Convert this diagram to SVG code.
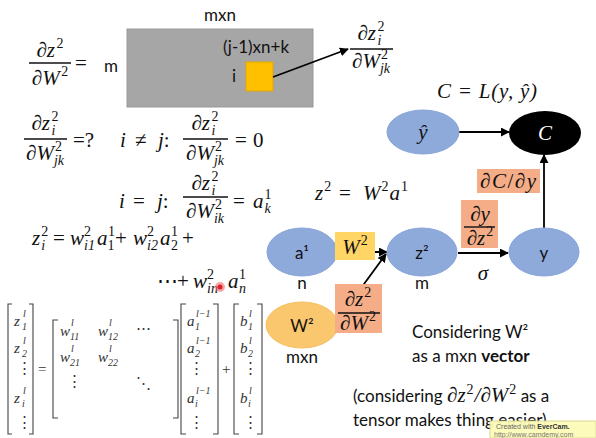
<svg xmlns="http://www.w3.org/2000/svg" width="596" height="438" viewBox="0 0 596 438">
<defs>
<style>
.m{font-family:"Liberation Serif","DejaVu Serif",serif;font-size:21px;fill:#111}
.i{font-style:italic}
.sc{font-family:"Liberation Serif","DejaVu Serif",serif;font-size:14px}
.mx{font-family:"Liberation Serif",serif;font-size:15px;font-style:italic;fill:#333}
.mxs{font-family:"Liberation Serif",serif;font-size:10px;font-style:italic;fill:#333}
.dots{font-family:"Liberation Serif",serif;font-size:15px;fill:#333}
.s{font-family:Lato,"Liberation Sans",sans-serif;font-size:17px;fill:#111}
.bar{stroke:#111;stroke-width:1.4}
.br{fill:none;stroke:#444;stroke-width:1.1}
.con{stroke:#000;stroke-width:1.8;fill:none}
.blue{fill:#8eaadb;stroke:#89a5d8}
.pink{fill:#f5ad88}
</style>
<marker id="ah" viewBox="0 0 10 10" refX="9" refY="5" markerWidth="5" markerHeight="5" orient="auto" markerUnits="strokeWidth">
<path d="M0,0 L10,5 L0,10 z" fill="#000"/>
</marker>
</defs>
<rect width="596" height="438" fill="#fff"/>

<g id="eq-top">
<text class="m" x="50" y="57" text-anchor="middle" font-size="22">∂<tspan class="i">z</tspan><tspan class="sc" dx="1.5" dy="-9">2</tspan></text>
<line class="bar" x1="29" y1="63" x2="71" y2="63"/>
<text class="m" x="50" y="85" text-anchor="middle" font-size="22">∂<tspan class="i">W</tspan><tspan class="sc" dx="1.5" dy="-9">2</tspan></text>
<text class="m" x="75" y="70" font-size="22">=</text>
<text class="s" x="104" y="72">m</text>
<text class="s" x="220" y="21" text-anchor="middle" font-size="16">mxn</text>
</g>
<g id="matrix-box">
<rect x="127" y="29" width="186" height="78" fill="#a6a6a6" stroke="#999"/>
<text class="s" x="223" y="53" font-size="16">(j-1)xn+k</text>
<text class="s" x="232" y="82" font-size="16">i</text>
</g>
<g id="element">
<rect x="246" y="62" width="27" height="29" fill="#ffc000" stroke="#e0a800"/>
</g>
<g id="eq-topright">
<text class="m" x="371" y="40" text-anchor="middle">∂<tspan class="i">z</tspan><tspan class="sc" dx="1.5" dy="-9">2</tspan><tspan class="sc i" dx="-7" dy="14">i</tspan></text>
<line class="bar" x1="350" y1="49" x2="393" y2="49"/>
<text class="m" x="371" y="68" text-anchor="middle">∂<tspan class="i">W</tspan><tspan class="sc" dx="1" dy="-9">2</tspan><tspan class="sc i" dx="-8" dy="14">jk</tspan></text>
</g>

<g id="eq-row2">
<text class="m" x="45" y="130" text-anchor="middle">∂<tspan class="i">z</tspan><tspan class="sc" dx="1.5" dy="-9">2</tspan><tspan class="sc i" dx="-7" dy="14">i</tspan></text>
<line class="bar" x1="24" y1="139" x2="67" y2="139"/>
<text class="m" x="45" y="160" text-anchor="middle">∂<tspan class="i">W</tspan><tspan class="sc" dx="1" dy="-9">2</tspan><tspan class="sc i" dx="-8" dy="14">jk</tspan></text>
<text class="m" x="73" y="147">=?</text>
<text class="m i" x="120" y="147">i</text>
<text class="m" x="135" y="147">≠</text>
<text class="m" x="158" y="147"><tspan class="i">j</tspan>:</text>
<text class="m" x="205" y="130" text-anchor="middle">∂<tspan class="i">z</tspan><tspan class="sc" dx="1.5" dy="-9">2</tspan><tspan class="sc i" dx="-7" dy="14">i</tspan></text>
<line class="bar" x1="183" y1="139" x2="228" y2="139"/>
<text class="m" x="205" y="160" text-anchor="middle">∂<tspan class="i">W</tspan><tspan class="sc" dx="1" dy="-9">2</tspan><tspan class="sc i" dx="-8" dy="14">jk</tspan></text>
<text class="m" x="235" y="147">=</text>
<text class="m" x="253" y="147">0</text>
</g>

<g id="eq-row3">
<text class="m i" x="119" y="208">i</text>
<text class="m" x="133" y="208">=</text>
<text class="m" x="157" y="208"><tspan class="i">j</tspan>:</text>
<text class="m" x="205" y="190" text-anchor="middle">∂<tspan class="i">z</tspan><tspan class="sc" dx="1.5" dy="-9">2</tspan><tspan class="sc i" dx="-7" dy="14">i</tspan></text>
<line class="bar" x1="183" y1="197" x2="228" y2="197"/>
<text class="m" x="205" y="218" text-anchor="middle">∂<tspan class="i">W</tspan><tspan class="sc" dx="1" dy="-9">2</tspan><tspan class="sc i" dx="-8" dy="14">ik</tspan></text>
<text class="m" x="233" y="208">=</text>
<text class="m" x="253" y="208"><tspan class="i">a</tspan><tspan class="sc" dx="1" dy="-9">1</tspan><tspan class="sc i" dx="-7" dy="14">k</tspan></text>
</g>

<g id="eq-row4">
<text class="m" x="32" y="245"><tspan class="i">z</tspan><tspan class="sc" dx="1" dy="-9">2</tspan><tspan class="sc i" dx="-7" dy="14">i</tspan></text>
<text class="m" x="53" y="245">=</text>
<text class="m" x="70" y="245"><tspan class="i">w</tspan><tspan class="sc" dy="-9">2</tspan><tspan class="sc i" dx="-7" dy="14">i1</tspan></text>
<text class="m" x="97" y="245"><tspan class="i">a</tspan><tspan class="sc" dx="0.5" dy="-9">1</tspan><tspan class="sc" dx="-7" dy="14">1</tspan></text>
<text class="m" x="115" y="245">+</text>
<text class="m" x="133" y="245"><tspan class="i">w</tspan><tspan class="sc" dy="-9">2</tspan><tspan class="sc i" dx="-7" dy="14">i2</tspan></text>
<text class="m" x="160" y="245"><tspan class="i">a</tspan><tspan class="sc" dx="0.5" dy="-9">1</tspan><tspan class="sc" dx="-7" dy="14">2</tspan></text>
<text class="m" x="182" y="245">+</text>
</g>
<g id="eq-row5">
<text class="m" x="157" y="288">⋯</text>
<text class="m" x="177" y="288">+</text>
<text class="m" x="193" y="288"><tspan class="i">w</tspan><tspan class="sc" dy="-9">2</tspan><tspan class="sc i" dx="-7" dy="14">in</tspan></text>
<text class="m" x="228" y="288"><tspan class="i">a</tspan><tspan class="sc" dx="0.5" dy="-9">1</tspan><tspan class="sc i" dx="-7" dy="14">n</tspan></text>
<circle cx="220" cy="287" r="5" fill="#f26a6a" opacity="0.6"/>
<circle cx="220" cy="287" r="2.5" fill="#e0202a"/>
</g>

<g id="matrix-eq">
<path class="br" d="M12,304 H8 V434 H12"/>
<path class="br" d="M29,304 H33 V434 H29"/>
<text class="mx" x="14" y="326">z</text><text class="mxs" x="23" y="317">l</text><text class="mxs" x="22" y="330">1</text>
<text class="mx" x="14" y="353">z</text><text class="mxs" x="23" y="344">l</text><text class="mxs" x="22" y="357">2</text>
<text class="dots" x="17" y="373">⋮</text>
<text class="mx" x="14" y="403">z</text><text class="mxs" x="23" y="394">l</text><text class="mxs" x="22" y="407">i</text>
<text class="dots" x="17" y="427">⋮</text>
<text class="dots" x="38" y="374" font-size="17">=</text>
<path class="br" d="M58,320 H53 V418 H58"/>
<path class="br" d="M173,320 H178 V418 H173"/>
<text class="mx" x="60" y="336">w</text><text class="mxs" x="71" y="326">l</text><text class="mxs" x="70" y="340">11</text>
<text class="mx" x="98" y="336">w</text><text class="mxs" x="109" y="326">l</text><text class="mxs" x="108" y="340">12</text>
<text class="dots" x="136" y="333">⋯</text>
<text class="mx" x="60" y="362">w</text><text class="mxs" x="71" y="352">l</text><text class="mxs" x="70" y="366">21</text>
<text class="mx" x="98" y="362">w</text><text class="mxs" x="109" y="352">l</text><text class="mxs" x="108" y="366">22</text>
<text class="dots" x="67" y="386">⋮</text>
<text class="dots" x="136" y="388">⋱</text>
<path class="br" d="M186,304 H181 V434 H186"/>
<path class="br" d="M213,304 H218 V434 H213"/>
<text class="mx" x="187" y="326">a</text><text class="mxs" x="196" y="317">l−1</text><text class="mxs" x="195" y="330">1</text>
<text class="mx" x="187" y="353">a</text><text class="mxs" x="196" y="344">l−1</text><text class="mxs" x="195" y="357">2</text>
<text class="dots" x="189" y="373">⋮</text>
<text class="mx" x="187" y="403">a</text><text class="mxs" x="196" y="394">l−1</text><text class="mxs" x="195" y="407">i</text>
<text class="dots" x="189" y="427">⋮</text>
<text class="dots" x="222" y="374" font-size="17">+</text>
<path class="br" d="M239,304 H234 V434 H239"/>
<path class="br" d="M257,304 H262 V434 H257"/>
<text class="mx" x="240" y="326">b</text><text class="mxs" x="249" y="317">l</text><text class="mxs" x="248" y="330">1</text>
<text class="mx" x="240" y="353">b</text><text class="mxs" x="249" y="344">l</text><text class="mxs" x="248" y="357">2</text>
<text class="dots" x="243" y="373">⋮</text>
<text class="mx" x="240" y="403">b</text><text class="mxs" x="249" y="394">l</text><text class="mxs" x="248" y="407">i</text>
<text class="dots" x="243" y="427">⋮</text>
</g>

<g id="connectors">
<line class="con" x1="273" y1="77" x2="348" y2="49" marker-end="url(#ah)"/>
<line class="con" x1="459" y1="132" x2="509" y2="132" marker-end="url(#ah)"/>
<line class="con" x1="544" y1="228" x2="544" y2="155" marker-end="url(#ah)"/>
<line class="con" x1="337" y1="252" x2="387" y2="252" marker-end="url(#ah)"/>
<line class="con" x1="345" y1="310" x2="386" y2="254" marker-end="url(#ah)"/>
<line class="con" x1="458" y1="253" x2="508" y2="253" marker-end="url(#ah)"/>
</g>

<text class="m i" x="437" y="98" textLength="100">C = L(y, ŷ)</text>
<g id="eq-z2">
<text class="m" x="315" y="200"><tspan class="i">z</tspan><tspan class="sc" dx="1" dy="-9">2</tspan></text>
<text class="m" x="339" y="200">=</text>
<text class="m" x="363" y="200"><tspan class="i">W</tspan><tspan class="sc" dx="1" dy="-9">2</tspan><tspan class="i" dx="1" dy="9">a</tspan><tspan class="sc" dx="1" dy="-9">1</tspan></text>
</g>

<g id="node-yhat">
<ellipse class="blue" cx="423" cy="132" rx="36" ry="22"/>
<text class="m i" x="423" y="139" text-anchor="middle">ŷ</text>
</g>
<g id="node-C">
<ellipse cx="545" cy="133" rx="36" ry="22" fill="#000"/>
<text class="m i" x="545" y="140" text-anchor="middle" style="fill:#fff">C</text>
</g>
<g id="node-a1">
<ellipse class="blue" cx="302" cy="252" rx="35" ry="24"/>
<text class="s" x="302" y="259" text-anchor="middle" font-size="18">a¹</text>
<text class="s" x="302" y="289" text-anchor="middle">n</text>
</g>
<g id="node-z2">
<ellipse class="blue" cx="422" cy="252" rx="35" ry="24"/>
<text class="s" x="422" y="259" text-anchor="middle" font-size="18">z²</text>
<text class="s" x="422" y="289" text-anchor="middle">m</text>
</g>
<g id="node-y">
<ellipse class="blue" cx="544" cy="252" rx="35" ry="24"/>
<text class="s" x="544" y="259" text-anchor="middle" font-size="18">y</text>
</g>
<g id="node-W2">
<ellipse cx="302" cy="325" rx="36" ry="23" fill="#fac66e" stroke="#f5c063"/>
<text class="s" x="302" y="332" text-anchor="middle" font-size="18">W²</text>
<text class="s" x="302" y="363" text-anchor="middle">mxn</text>
</g>

<g id="label-W2">
<rect x="335" y="232" width="40" height="28" fill="#ffd665"/>
<text class="m" x="355" y="254" text-anchor="middle" font-size="22"><tspan class="i">W</tspan><tspan class="sc" dx="1" dy="-9">2</tspan></text>
</g>
<g id="label-dz2dW2">
<rect class="pink" x="335" y="284" width="47" height="49"/>
<text class="m" x="358" y="306" text-anchor="middle" font-size="22">∂<tspan class="i">z</tspan><tspan class="sc" dx="1" dy="-9">2</tspan></text>
<line class="bar" x1="338" y1="313" x2="380" y2="313"/>
<text class="m" x="358" y="330" text-anchor="middle" font-size="22">∂<tspan class="i">W</tspan><tspan class="sc" dx="1" dy="-9">2</tspan></text>
</g>
<g id="label-dydz2">
<rect class="pink" x="461" y="200" width="37" height="48"/>
<text class="m" x="480" y="221" text-anchor="middle" font-size="22">∂<tspan class="i">y</tspan></text>
<line class="bar" x1="464" y1="227" x2="495" y2="227"/>
<text class="m" x="480" y="245" text-anchor="middle" font-size="22">∂<tspan class="i">z</tspan><tspan class="sc" dx="1" dy="-9">2</tspan></text>
</g>
<text class="m i" x="483" y="280" text-anchor="middle">σ</text>
<g id="label-dCdy">
<rect class="pink" x="477" y="169" width="63" height="24"/>
<text class="m" x="480" y="188" font-size="20" textLength="56">∂<tspan class="i">C</tspan>/∂<tspan class="i">y</tspan></text>
</g>

<g id="notes">
<text class="s" x="412" y="338" font-size="18">Considering W²</text>
<text class="s" x="412" y="362" font-size="18">as a mxn <tspan font-weight="bold">vector</tspan></text>
<text class="s" x="353" y="402" font-size="18">(considering <tspan class="m i" font-size="20">∂z</tspan><tspan class="sc" font-size="13" dx="1" dy="-8">2</tspan><tspan class="m i" dx="1" dy="8" font-size="20">/∂W</tspan><tspan class="sc" font-size="13" dx="1" dy="-8">2</tspan><tspan dy="8"> as a</tspan></text>
<text class="s" x="353" y="426" font-size="18">tensor makes thing easier)</text>
</g>
<g id="watermark">
<rect x="490" y="421" width="106" height="17" fill="#fdfbb8" stroke="#dcd890" opacity="0.95"/>
<text x="496" y="429" font-family="Liberation Sans,sans-serif" font-size="7" fill="#666">Created with <tspan font-weight="bold" fill="#333">EverCam.</tspan></text>
<text x="494" y="437" font-family="Liberation Sans,sans-serif" font-size="7" fill="#777">http://www.camdemy.com</text>
</g>
</svg>
